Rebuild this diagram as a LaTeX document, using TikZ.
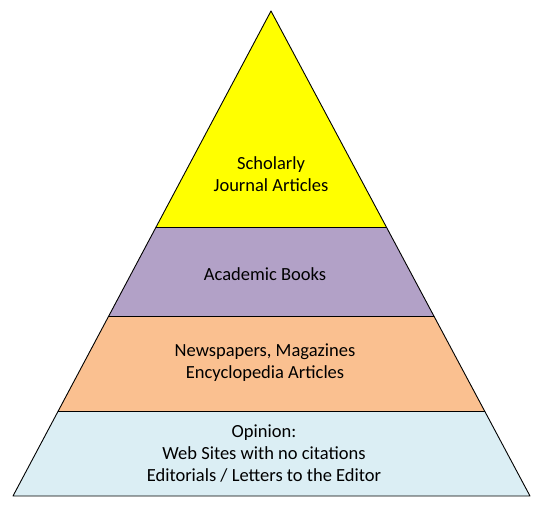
\documentclass[tikz,border=0pt]{standalone}
\usepackage{fontspec}
\setmainfont{Carlito}
\usetikzlibrary{calc}
\definecolor{tierblue}{HTML}{DBEEF4}
\definecolor{tierorange}{HTML}{FAC090}
\definecolor{tierpurple}{HTML}{B2A1C7}
\definecolor{tieryellow}{HTML}{FFFF00}
\tikzset{
  tier/.style={draw=black, line width=0.9pt, line join=round},
  tierlabel/.style={align=center, font=\fontsize{18.5}{22}\selectfont, inner sep=0pt}
}
\begin{document}
\begin{tikzpicture}[x=1pt, y=-1pt]
  \useasboundingbox (0,0) rectangle (539,515);
  \coordinate (apex) at (271,11);
  \coordinate (bl) at (13,496);
  \coordinate (br) at (530,496);
  % band edges
  \coordinate (l1) at ($(apex)!0.4454!(bl)$); \coordinate (r1) at ($(apex)!0.4454!(br)$);
  \coordinate (l2) at ($(apex)!0.6289!(bl)$); \coordinate (r2) at ($(apex)!0.6289!(br)$);
  \coordinate (l3) at ($(apex)!0.8247!(bl)$); \coordinate (r3) at ($(apex)!0.8247!(br)$);
  \fill[tierblue] (l3) -- (r3) -- (br) -- (bl) -- cycle;
  \fill[tierorange] (l2) -- (r2) -- (r3) -- (l3) -- cycle;
  \fill[tierpurple] (l1) -- (r1) -- (r2) -- (l2) -- cycle;
  \fill[tieryellow] (apex) -- (r1) -- (l1) -- cycle;
  \draw[tier] (apex) -- (br) -- (bl) -- cycle;
  \draw[tier] (l1) -- (r1);
  \draw[tier] (l2) -- (r2);
  \draw[tier] (l3) -- (r3);
  \node[tierlabel] (scholarly) at (271,174) {Scholarly\\Journal Articles};
  \node[tierlabel] (books) at (265,274) {Academic Books};
  \node[tierlabel] (news) at (265,363) {Newspapers, Magazines\\Encyclopedia Articles};
  \node[tierlabel] (opinion) at (264,454) {Opinion:\\Web Sites with no citations\\Editorials / Letters to the Editor};
\end{tikzpicture}
\end{document}
